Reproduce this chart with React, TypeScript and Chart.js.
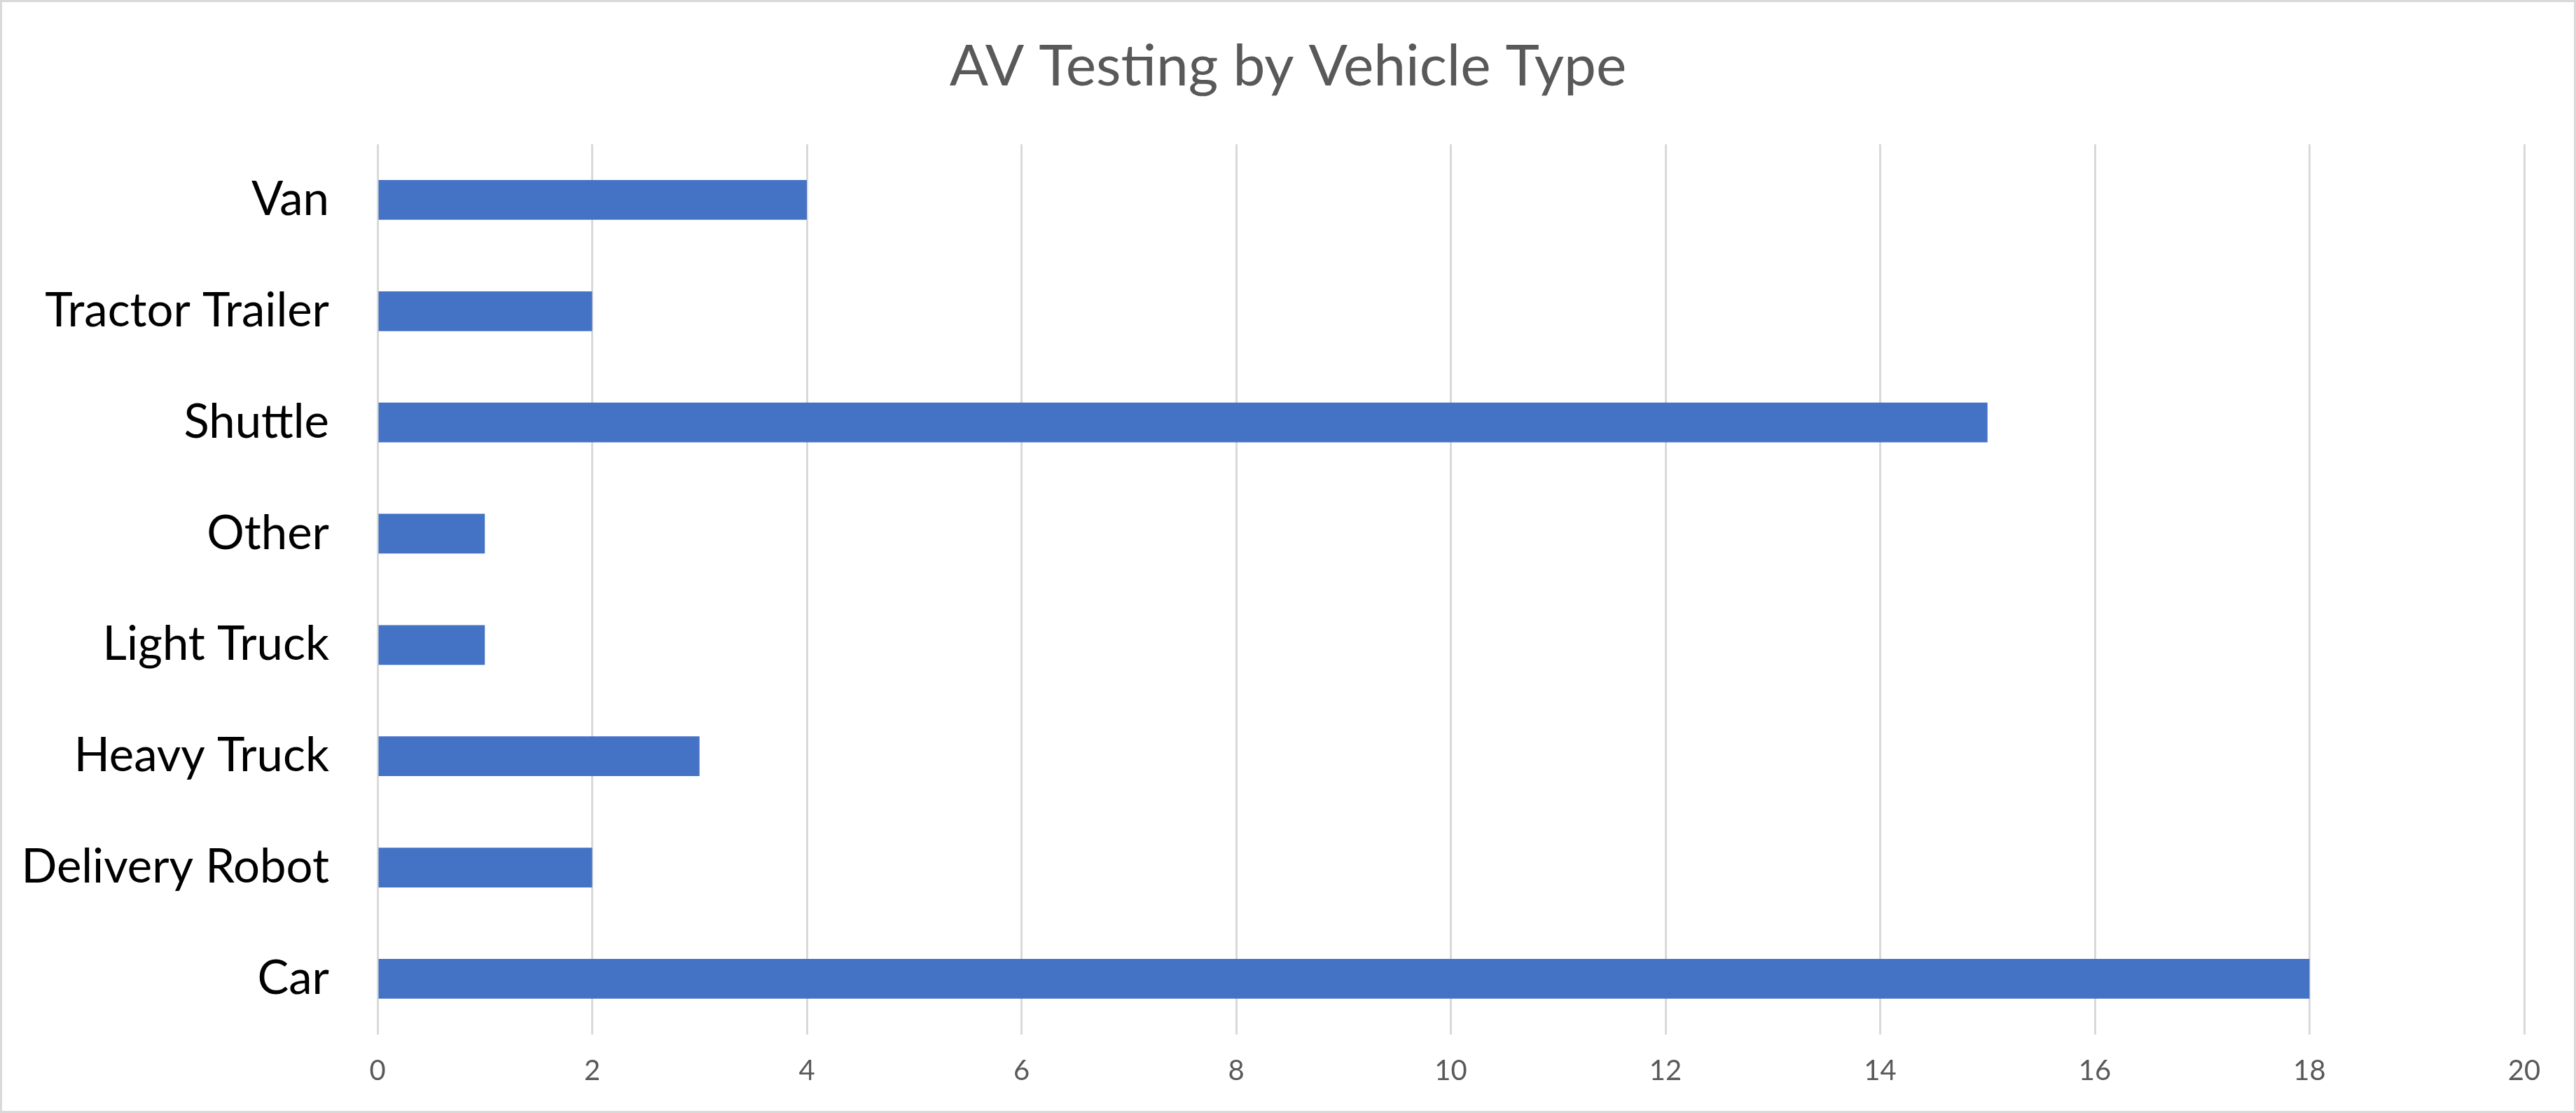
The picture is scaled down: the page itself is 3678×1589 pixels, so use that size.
import React, { useEffect, useRef } from "react";
import { Chart, registerables } from "chart.js";

Chart.register(...registerables);

const categories = ["Car", "Delivery Robot", "Heavy Truck", "Light Truck", "Other", "Shuttle", "Tractor Trailer", "Van"];
const values = [18, 2, 3, 1, 1, 15, 2, 4];
const xTicks = [0, 2, 4, 6, 8, 10, 12, 14, 16, 18, 20];
const titleText = "AV Testing by Vehicle Type";

const W = 3678;
const H = 1589;
const B = 3;

const centeredTitle = {
  id: "centeredTitle",
  afterDraw(chart: any) {
    const ctx = chart.ctx;
    ctx.save();
    ctx.fillStyle = "#595959";
    ctx.font = "normal 82px Lato";
    ctx.textAlign = "center";
    ctx.textBaseline = "middle";
    ctx.fillText(titleText, chart.width / 2, 93);
    ctx.restore();
  },
};

export default function App() {
  const ref = useRef<HTMLCanvasElement | null>(null);
  useEffect(() => {
    document.body.style.margin = "0";
    const canvas = ref.current;
    if (!canvas) return;
    const chart = new Chart(canvas, {
      type: "bar",
      data: {
        labels: categories,
        datasets: [
          {
            data: values,
            backgroundColor: "#4472C4",
            borderWidth: 0,
            categoryPercentage: 1,
            barPercentage: 0.357,
          },
        ],
      },
      options: {
        indexAxis: "y",
        animation: false,
        responsive: false,
        devicePixelRatio: 1,
        layout: { padding: { left: 0, right: 71, top: 203, bottom: 0 } },
        plugins: {
          legend: { display: false },
          tooltip: { enabled: false },
          title: { display: false },
        },
        scales: {
          x: {
            min: 0,
            max: 20,
            afterBuildTicks: (scale: any) => {
              scale.ticks = xTicks.map((v) => ({ value: v }));
            },
            afterFit: (scale: any) => {
              scale.height = 105;
            },
            grid: { color: "#D9D9D9", lineWidth: 3, drawTicks: false },
            border: { display: false },
            ticks: {
              color: "#595959",
              padding: 28,
              font: { family: "Lato", size: 40 },
              maxRotation: 0,
            },
          },
          y: {
            reverse: true,
            afterFit: (scale: any) => {
              scale.width = 536;
            },
            grid: { display: false, drawTicks: false },
            border: { display: false },
            ticks: {
              color: "#000000",
              padding: 69,
              font: { family: "Lato", size: 67 },
            },
          },
        },
      },
      plugins: [centeredTitle],
    });
    return () => chart.destroy();
  }, []);
  return (
    <div
      style={{
        width: W,
        height: H,
        boxSizing: "border-box",
        border: `${B}px solid #D9D9D9`,
        background: "#ffffff",
      }}
    >
      <canvas
        ref={ref}
        width={W - 2 * B}
        height={H - 2 * B}
        style={{ display: "block", width: W - 2 * B, height: H - 2 * B }}
      />
    </div>
  );
}
